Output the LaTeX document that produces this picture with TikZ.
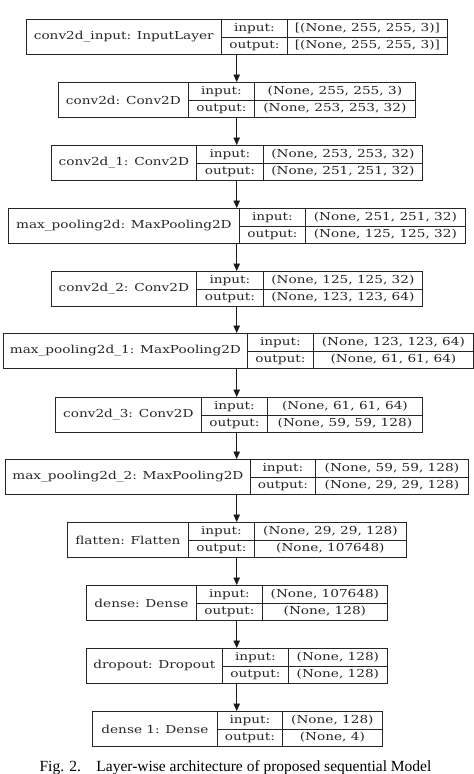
\documentclass[tikz,border=0pt]{standalone}
\usepackage{fontspec}
\setmainfont{Liberation Serif}
\newfontfamily\boxfont[FakeStretch=1.24]{DejaVu Serif}
\usetikzlibrary{arrows.meta}
\tikzset{
  cell/.style={draw=black!85, line width=0.8pt, inner sep=0pt, minimum height=17.5pt, anchor=north west, font=\boxfont\fontsize{11}{12}\selectfont, text=black!85},
  labcell/.style={cell, minimum height=35pt},
  arr/.style={-{Triangle[length=7.5pt,width=6.5pt]}, line width=0.9pt, draw=black!90},
  caption/.style={font=\fontsize{15.5}{17}\selectfont, anchor=base, inner sep=0pt}
}
% #1 name, #2 top, #3 left, #4 d1, #5 d2, #6 right, #7 label, #8 input, #9 output
\newcommand\mylayer[9]{%
  \pgfmathsetmacro\wa{#4-#3}\pgfmathsetmacro\wb{#5-#4}\pgfmathsetmacro\wc{#6-#5}%
  \pgfmathsetmacro\ymid{#2+17.5}%
  \node[labcell, minimum width=\wa pt] (#1) at (#3,#2) {#7};
  \node[cell, minimum width=\wb pt] (#1-ik) at (#4,#2) {input:};
  \node[cell, minimum width=\wb pt] (#1-ok) at (#4,\ymid) {output:};
  \node[cell, minimum width=\wc pt] (#1-iv) at (#5,#2) {#8};
  \node[cell, minimum width=\wc pt] (#1-ov) at (#5,\ymid) {#9};
}
\begin{document}
\begin{tikzpicture}[x=1pt,y=-1pt]
\useasboundingbox (0,0) rectangle (474,774);
\coordinate (ax) at (236.7,0);
\mylayer{L1}{19}{25.7}{221}{287}{447}{conv2d\_input: InputLayer}{[(None, 255, 255, 3)]}{[(None, 255, 255, 3)]}
\mylayer{L2}{82}{58}{188}{254}{415}{conv2d: Conv2D}{(None, 255, 255, 3)}{(None, 253, 253, 32)}
\mylayer{L3}{145}{51}{196}{263}{422}{conv2d\_1: Conv2D}{(None, 253, 253, 32)}{(None, 251, 251, 32)}
\mylayer{L4}{208}{8}{239}{305}{465}{max\_pooling2d: MaxPooling2D}{(None, 251, 251, 32)}{(None, 125, 125, 32)}
\mylayer{L5}{271}{51}{196}{263}{422}{conv2d\_2: Conv2D}{(None, 125, 125, 32)}{(None, 123, 123, 64)}
\mylayer{L6}{333}{3}{247}{313}{473}{max\_pooling2d\_1: MaxPooling2D}{(None, 123, 123, 64)}{(None, 61, 61, 64)}
\mylayer{L7}{397}{55}{201}{267}{422}{conv2d\_3: Conv2D}{(None, 61, 61, 64)}{(None, 59, 59, 128)}
\mylayer{L8}{459}{5}{250}{315}{468}{max\_pooling2d\_2: MaxPooling2D}{(None, 59, 59, 128)}{(None, 29, 29, 128)}
\mylayer{L9}{522}{67}{188}{254}{406}{flatten: Flatten}{(None, 29, 29, 128)}{(None, 107648)}
\mylayer{L10}{585}{86}{196}{262}{387}{dense: Dense}{(None, 107648)}{(None, 128)}
\mylayer{L11}{648}{86}{222}{288}{387}{dropout: Dropout}{(None, 128)}{(None, 128)}
\mylayer{L12}{711}{92}{217}{282}{382}{dense 1: Dense}{(None, 128)}{(None, 4)}
\foreach \a/\b in {L1/L2,L2/L3,L3/L4,L4/L5,L5/L6,L6/L7,L7/L8,L8/L9,L9/L10,L10/L11,L11/L12}
  \draw[arr] (\a.south -| ax) -- (\b.north -| ax);
\node[caption] (cap) at (235.5,771) {Fig. 2.\quad Layer-wise architecture of proposed sequential Model};
\end{tikzpicture}
\end{document}
